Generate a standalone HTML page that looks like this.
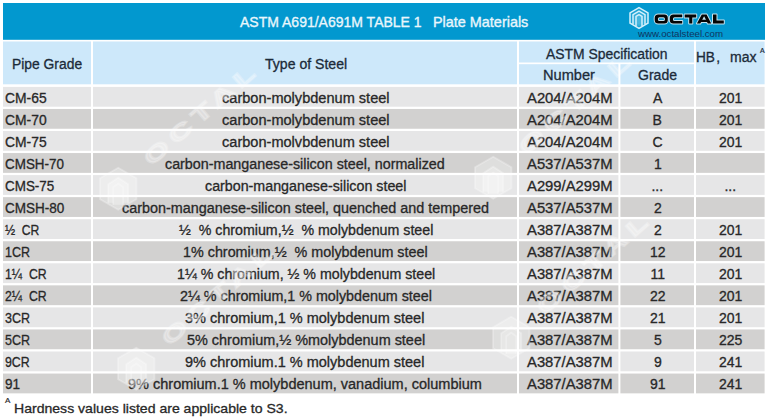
<!DOCTYPE html>
<html><head><meta charset="utf-8"><style>
html,body{margin:0;padding:0;width:768px;height:420px;overflow:hidden;background:#fff;position:relative}
.b{position:absolute}
.t,.ht,.tt{position:absolute;font-family:"Liberation Sans",sans-serif;font-size:14px;line-height:16px;white-space:nowrap;color:#282828;transform-origin:0 0}
.ht{color:#1c2b39}
.tt{color:#e9f6fc}
.sup{position:absolute;font-family:"Liberation Sans",sans-serif;font-size:7px;line-height:8px;color:#1b2a38;-webkit-text-stroke:0.2px currentColor}
.logo{position:absolute;left:0;top:0}
.octal{position:absolute;left:654px;top:13px;font-family:"Liberation Sans",sans-serif;font-weight:bold;font-size:13px;line-height:14px;color:#0a0a0a;transform-origin:0 0;transform:scaleX(1.52);letter-spacing:0.5px;
 text-shadow:0.8px 0 0 #d6eef8,-0.8px 0 0 #d6eef8,0 0.8px 0 #d6eef8,0 -0.8px 0 #d6eef8,0.6px 0.6px 0 #d6eef8,-0.6px -0.6px 0 #d6eef8,0.6px -0.6px 0 #d6eef8,-0.6px 0.6px 0 #d6eef8}
.www{position:absolute;left:638px;top:29px;font-family:"Liberation Sans",sans-serif;font-size:9.5px;line-height:10px;color:#0f3560;transform-origin:0 0;transform:scaleX(1.02)}
.wm{position:absolute;left:0;top:0;pointer-events:none}
.t,.ht{-webkit-text-stroke:0.3px currentColor}
.tt{-webkit-text-stroke:0.35px currentColor}

</style></head><body>
<svg class="b" style="left:0;top:0" width="768" height="420" viewBox="0 0 768 420" shape-rendering="geometricPrecision"><rect x="3" y="3.00" width="762.00" height="36.80" fill="#0298cf"/><rect x="3" y="41.50" width="88.00" height="42.80" fill="#cde8fa"/><rect x="93" y="41.50" width="424.00" height="42.80" fill="#cde8fa"/><rect x="519" y="41.50" width="175.00" height="21.00" fill="#cde8fa"/><rect x="519" y="64.20" width="99.40" height="20.10" fill="#cde8fa"/><rect x="620.4" y="64.20" width="73.60" height="20.10" fill="#cde8fa"/><rect x="696" y="41.50" width="68.60" height="42.80" fill="#cde8fa"/><rect x="3" y="86.90" width="88.00" height="19.80" fill="#e6e6e7"/><rect x="93" y="86.90" width="424.00" height="19.80" fill="#e6e6e7"/><rect x="519" y="86.90" width="99.40" height="19.80" fill="#e6e6e7"/><rect x="620.4" y="86.90" width="73.60" height="19.80" fill="#e6e6e7"/><rect x="696" y="86.90" width="68.60" height="19.80" fill="#e6e6e7"/><rect x="3" y="108.95" width="88.00" height="19.80" fill="#d2d1d0"/><rect x="93" y="108.95" width="424.00" height="19.80" fill="#d2d1d0"/><rect x="519" y="108.95" width="99.40" height="19.80" fill="#d2d1d0"/><rect x="620.4" y="108.95" width="73.60" height="19.80" fill="#d2d1d0"/><rect x="696" y="108.95" width="68.60" height="19.80" fill="#d2d1d0"/><rect x="3" y="131.00" width="88.00" height="19.80" fill="#e6e6e7"/><rect x="93" y="131.00" width="424.00" height="19.80" fill="#e6e6e7"/><rect x="519" y="131.00" width="99.40" height="19.80" fill="#e6e6e7"/><rect x="620.4" y="131.00" width="73.60" height="19.80" fill="#e6e6e7"/><rect x="696" y="131.00" width="68.60" height="19.80" fill="#e6e6e7"/><rect x="3" y="153.05" width="88.00" height="19.80" fill="#d2d1d0"/><rect x="93" y="153.05" width="424.00" height="19.80" fill="#d2d1d0"/><rect x="519" y="153.05" width="99.40" height="19.80" fill="#d2d1d0"/><rect x="620.4" y="153.05" width="73.60" height="19.80" fill="#d2d1d0"/><rect x="696" y="153.05" width="68.60" height="19.80" fill="#d2d1d0"/><rect x="3" y="175.10" width="88.00" height="19.80" fill="#e6e6e7"/><rect x="93" y="175.10" width="424.00" height="19.80" fill="#e6e6e7"/><rect x="519" y="175.10" width="99.40" height="19.80" fill="#e6e6e7"/><rect x="620.4" y="175.10" width="73.60" height="19.80" fill="#e6e6e7"/><rect x="696" y="175.10" width="68.60" height="19.80" fill="#e6e6e7"/><rect x="3" y="197.15" width="88.00" height="19.80" fill="#d2d1d0"/><rect x="93" y="197.15" width="424.00" height="19.80" fill="#d2d1d0"/><rect x="519" y="197.15" width="99.40" height="19.80" fill="#d2d1d0"/><rect x="620.4" y="197.15" width="73.60" height="19.80" fill="#d2d1d0"/><rect x="696" y="197.15" width="68.60" height="19.80" fill="#d2d1d0"/><rect x="3" y="219.20" width="88.00" height="19.80" fill="#e6e6e7"/><rect x="93" y="219.20" width="424.00" height="19.80" fill="#e6e6e7"/><rect x="519" y="219.20" width="99.40" height="19.80" fill="#e6e6e7"/><rect x="620.4" y="219.20" width="73.60" height="19.80" fill="#e6e6e7"/><rect x="696" y="219.20" width="68.60" height="19.80" fill="#e6e6e7"/><rect x="3" y="241.25" width="88.00" height="19.80" fill="#d2d1d0"/><rect x="93" y="241.25" width="424.00" height="19.80" fill="#d2d1d0"/><rect x="519" y="241.25" width="99.40" height="19.80" fill="#d2d1d0"/><rect x="620.4" y="241.25" width="73.60" height="19.80" fill="#d2d1d0"/><rect x="696" y="241.25" width="68.60" height="19.80" fill="#d2d1d0"/><rect x="3" y="263.30" width="88.00" height="19.80" fill="#e6e6e7"/><rect x="93" y="263.30" width="424.00" height="19.80" fill="#e6e6e7"/><rect x="519" y="263.30" width="99.40" height="19.80" fill="#e6e6e7"/><rect x="620.4" y="263.30" width="73.60" height="19.80" fill="#e6e6e7"/><rect x="696" y="263.30" width="68.60" height="19.80" fill="#e6e6e7"/><rect x="3" y="285.35" width="88.00" height="19.80" fill="#d2d1d0"/><rect x="93" y="285.35" width="424.00" height="19.80" fill="#d2d1d0"/><rect x="519" y="285.35" width="99.40" height="19.80" fill="#d2d1d0"/><rect x="620.4" y="285.35" width="73.60" height="19.80" fill="#d2d1d0"/><rect x="696" y="285.35" width="68.60" height="19.80" fill="#d2d1d0"/><rect x="3" y="307.40" width="88.00" height="19.80" fill="#e6e6e7"/><rect x="93" y="307.40" width="424.00" height="19.80" fill="#e6e6e7"/><rect x="519" y="307.40" width="99.40" height="19.80" fill="#e6e6e7"/><rect x="620.4" y="307.40" width="73.60" height="19.80" fill="#e6e6e7"/><rect x="696" y="307.40" width="68.60" height="19.80" fill="#e6e6e7"/><rect x="3" y="329.45" width="88.00" height="19.80" fill="#d2d1d0"/><rect x="93" y="329.45" width="424.00" height="19.80" fill="#d2d1d0"/><rect x="519" y="329.45" width="99.40" height="19.80" fill="#d2d1d0"/><rect x="620.4" y="329.45" width="73.60" height="19.80" fill="#d2d1d0"/><rect x="696" y="329.45" width="68.60" height="19.80" fill="#d2d1d0"/><rect x="3" y="351.50" width="88.00" height="19.80" fill="#e6e6e7"/><rect x="93" y="351.50" width="424.00" height="19.80" fill="#e6e6e7"/><rect x="519" y="351.50" width="99.40" height="19.80" fill="#e6e6e7"/><rect x="620.4" y="351.50" width="73.60" height="19.80" fill="#e6e6e7"/><rect x="696" y="351.50" width="68.60" height="19.80" fill="#e6e6e7"/><rect x="3" y="373.55" width="88.00" height="19.80" fill="#d2d1d0"/><rect x="93" y="373.55" width="424.00" height="19.80" fill="#d2d1d0"/><rect x="519" y="373.55" width="99.40" height="19.80" fill="#d2d1d0"/><rect x="620.4" y="373.55" width="73.60" height="19.80" fill="#d2d1d0"/><rect x="696" y="373.55" width="68.60" height="19.80" fill="#d2d1d0"/></svg>
<div id="t0" class="tt" style="left:240.21px;top:14px;font-size:14.5px;transform:scaleX(0.9658);">ASTM A691/A691M TABLE 1</div>
<div id="t1" class="tt" style="left:433.00px;top:14px;font-size:14.5px;transform:scaleX(0.9937);">Plate Materials</div>
<div id="t2" class="ht" style="left:12.01px;top:56px;font-size:14px;transform:scaleX(0.9900);">Pipe Grade</div>
<div id="t3" class="ht" style="left:265.00px;top:56px;font-size:14px;transform:scaleX(1.0049);">Type of Steel</div>
<div id="t4" class="ht" style="left:546.40px;top:46px;font-size:14px;transform:scaleX(0.9943);">ASTM Specification</div>
<div id="t5" class="ht" style="left:542.77px;top:67px;font-size:14px;transform:scaleX(1.0429);">Number</div>
<div id="t6" class="ht" style="left:637.60px;top:67px;font-size:14px;transform:scaleX(1.0026);">Grade</div>
<div id="t7" class="ht" style="left:696.22px;top:49px;font-size:14px;transform:scaleX(0.9765);">HB</div>
<div id="t8" class="ht" style="left:716.20px;top:49px;font-size:14px;transform:scaleX(1.0000);">,</div>
<div id="t9" class="ht" style="left:730.20px;top:49px;font-size:14px;transform:scaleX(1.0038);">max</div>
<div id="t10" class="t" style="left:4.60px;top:90px;font-size:14px;transform:scaleX(0.9905);">CM-65</div>
<div id="t11" class="t" style="left:222.00px;top:90px;font-size:14px;transform:scaleX(1.0404);">carbon-molybdenum steel</div>
<div id="t12" class="t" style="left:527.03px;top:90px;font-size:14px;transform:scaleX(1.0580);">A204/A204M</div>
<div id="t13" class="t" style="left:652.90px;top:90px;font-size:14px;transform:scaleX(1.0000);">A</div>
<div id="t14" class="t" style="left:718.90px;top:90px;font-size:14px;transform:scaleX(1.0000);">201</div>
<div id="t15" class="t" style="left:4.60px;top:112px;font-size:14px;transform:scaleX(0.9905);">CM-70</div>
<div id="t16" class="t" style="left:222.00px;top:112px;font-size:14px;transform:scaleX(1.0404);">carbon-molybdenum steel</div>
<div id="t17" class="t" style="left:527.03px;top:112px;font-size:14px;transform:scaleX(1.0580);">A204/A204M</div>
<div id="t18" class="t" style="left:652.40px;top:112px;font-size:14px;transform:scaleX(1.0000);">B</div>
<div id="t19" class="t" style="left:718.90px;top:112px;font-size:14px;transform:scaleX(1.0000);">201</div>
<div id="t20" class="t" style="left:4.60px;top:134px;font-size:14px;transform:scaleX(0.9905);">CM-75</div>
<div id="t21" class="t" style="left:222.00px;top:134px;font-size:14px;transform:scaleX(1.0404);">carbon-molvbdenum steel</div>
<div id="t22" class="t" style="left:527.03px;top:134px;font-size:14px;transform:scaleX(1.0580);">A204/A204M</div>
<div id="t23" class="t" style="left:652.40px;top:134px;font-size:14px;transform:scaleX(1.0000);">C</div>
<div id="t24" class="t" style="left:718.90px;top:134px;font-size:14px;transform:scaleX(1.0000);">201</div>
<div id="t25" class="t" style="left:4.61px;top:156px;font-size:14px;transform:scaleX(0.9590);">CMSH-70</div>
<div id="t26" class="t" style="left:165.48px;top:156px;font-size:14px;transform:scaleX(1.0211);">carbon-manganese-silicon steel, normalized</div>
<div id="t27" class="t" style="left:527.03px;top:156px;font-size:14px;transform:scaleX(1.0580);">A537/A537M</div>
<div id="t28" class="t" style="left:653.90px;top:156px;font-size:14px;transform:scaleX(1.0000);">1</div>
<div id="t29" class="t" style="left:4.61px;top:178px;font-size:14px;transform:scaleX(0.9588);">CMS-75</div>
<div id="t30" class="t" style="left:204.99px;top:178px;font-size:14px;transform:scaleX(1.0190);">carbon-manganese-silicon steel</div>
<div id="t31" class="t" style="left:527.03px;top:178px;font-size:14px;transform:scaleX(1.0580);">A299/A299M</div>
<div id="t32" class="t" style="left:651.40px;top:178px;font-size:14px;transform:scaleX(1.0000);">...</div>
<div id="t33" class="t" style="left:724.40px;top:178px;font-size:14px;transform:scaleX(1.0000);">...</div>
<div id="t34" class="t" style="left:4.61px;top:200px;font-size:14px;transform:scaleX(0.9656);">CMSH-80</div>
<div id="t35" class="t" style="left:121.99px;top:200px;font-size:14px;transform:scaleX(1.0274);">carbon-manganese-silicon steel, quenched and tempered</div>
<div id="t36" class="t" style="left:527.03px;top:200px;font-size:14px;transform:scaleX(1.0580);">A537/A537M</div>
<div id="t37" class="t" style="left:653.90px;top:200px;font-size:14px;transform:scaleX(1.0000);">2</div>
<div id="t38" class="t" style="left:4.63px;top:222px;font-size:14px;transform:scaleX(0.8667);">½&nbsp; CR</div>
<div id="t39" class="t" style="left:178.50px;top:222px;font-size:14px;transform:scaleX(1.0150);">½&nbsp; % chromium,½&nbsp; % molybdenum steel</div>
<div id="t40" class="t" style="left:527.03px;top:222px;font-size:14px;transform:scaleX(1.0580);">A387/A387M</div>
<div id="t41" class="t" style="left:653.90px;top:222px;font-size:14px;transform:scaleX(1.0000);">2</div>
<div id="t42" class="t" style="left:718.90px;top:222px;font-size:14px;transform:scaleX(1.0000);">201</div>
<div id="t43" class="t" style="left:4.62px;top:244px;font-size:14px;transform:scaleX(0.8926);">1CR</div>
<div id="t44" class="t" style="left:183.49px;top:244px;font-size:14px;transform:scaleX(1.0242);">1% chromium,½&nbsp; % molybdenum steel</div>
<div id="t45" class="t" style="left:527.03px;top:244px;font-size:14px;transform:scaleX(1.0580);">A387/A387M</div>
<div id="t46" class="t" style="left:649.90px;top:244px;font-size:14px;transform:scaleX(1.0000);">12</div>
<div id="t47" class="t" style="left:718.90px;top:244px;font-size:14px;transform:scaleX(1.0000);">201</div>
<div id="t48" class="t" style="left:4.62px;top:266px;font-size:14px;transform:scaleX(0.8766);">1¼&nbsp; CR</div>
<div id="t49" class="t" style="left:176.99px;top:266px;font-size:14px;transform:scaleX(1.0148);">1¼ % chromium, ½ % molybdenum steel</div>
<div id="t50" class="t" style="left:527.03px;top:266px;font-size:14px;transform:scaleX(1.0580);">A387/A387M</div>
<div id="t51" class="t" style="left:650.40px;top:266px;font-size:14px;transform:scaleX(1.0000);">11</div>
<div id="t52" class="t" style="left:718.90px;top:266px;font-size:14px;transform:scaleX(1.0000);">201</div>
<div id="t53" class="t" style="left:4.62px;top:288px;font-size:14px;transform:scaleX(0.8766);">2¼&nbsp; CR</div>
<div id="t54" class="t" style="left:180.00px;top:288px;font-size:14px;transform:scaleX(1.0213);">2¼ % chromium,1 % molybdenum steel</div>
<div id="t55" class="t" style="left:527.03px;top:288px;font-size:14px;transform:scaleX(1.0580);">A387/A387M</div>
<div id="t56" class="t" style="left:649.90px;top:288px;font-size:14px;transform:scaleX(1.0000);">22</div>
<div id="t57" class="t" style="left:718.90px;top:288px;font-size:14px;transform:scaleX(1.0000);">201</div>
<div id="t58" class="t" style="left:4.62px;top:310px;font-size:14px;transform:scaleX(0.8926);">3CR</div>
<div id="t59" class="t" style="left:185.47px;top:310px;font-size:14px;transform:scaleX(1.0359);">3% chromium,1 % molybdenum steel</div>
<div id="t60" class="t" style="left:527.03px;top:310px;font-size:14px;transform:scaleX(1.0580);">A387/A387M</div>
<div id="t61" class="t" style="left:649.90px;top:310px;font-size:14px;transform:scaleX(1.0000);">21</div>
<div id="t62" class="t" style="left:718.90px;top:310px;font-size:14px;transform:scaleX(1.0000);">201</div>
<div id="t63" class="t" style="left:4.62px;top:332px;font-size:14px;transform:scaleX(0.8926);">5CR</div>
<div id="t64" class="t" style="left:186.98px;top:332px;font-size:14px;transform:scaleX(1.0304);">5% chromium,½ %molybdenum steel</div>
<div id="t65" class="t" style="left:527.03px;top:332px;font-size:14px;transform:scaleX(1.0580);">A387/A387M</div>
<div id="t66" class="t" style="left:653.90px;top:332px;font-size:14px;transform:scaleX(1.0000);">5</div>
<div id="t67" class="t" style="left:718.90px;top:332px;font-size:14px;transform:scaleX(1.0000);">225</div>
<div id="t68" class="t" style="left:4.62px;top:354px;font-size:14px;transform:scaleX(0.8815);">9CR</div>
<div id="t69" class="t" style="left:185.47px;top:354px;font-size:14px;transform:scaleX(1.0359);">9% chromium.1 % molybdenum steel</div>
<div id="t70" class="t" style="left:527.03px;top:354px;font-size:14px;transform:scaleX(1.0580);">A387/A387M</div>
<div id="t71" class="t" style="left:653.90px;top:354px;font-size:14px;transform:scaleX(1.0000);">9</div>
<div id="t72" class="t" style="left:718.90px;top:354px;font-size:14px;transform:scaleX(1.0000);">241</div>
<div id="t73" class="t" style="left:4.61px;top:376px;font-size:14px;transform:scaleX(0.9667);">91</div>
<div id="t74" class="t" style="left:128.49px;top:376px;font-size:14px;transform:scaleX(1.0359);">9% chromium.1 % molybdenum, vanadium, columbium</div>
<div id="t75" class="t" style="left:527.03px;top:376px;font-size:14px;transform:scaleX(1.0580);">A387/A387M</div>
<div id="t76" class="t" style="left:649.90px;top:376px;font-size:14px;transform:scaleX(1.0000);">91</div>
<div id="t77" class="t" style="left:718.90px;top:376px;font-size:14px;transform:scaleX(1.0000);">241</div>
<div id="t78" class="t" style="left:13.92px;top:401px;font-size:13px;transform:scaleX(1.0817);">Hardness values listed are applicable to S3.</div>
<svg class="wm" width="768" height="420" viewBox="0 0 768 420"><g fill="rgba(255,255,255,0.28)" stroke="rgba(255,255,255,0.28)" stroke-width="1.8"><g transform="translate(157,151) rotate(-41)">
 <g transform="translate(-54,3) rotate(41)"><polygon points="0,-21 18.2,-10.5 18.2,10.5 0,21 -18.2,10.5 -18.2,-10.5"/>
 <path d="M-10,14 V-4.5 L0,-11 L10,-4.5 V14 M-5,16 V-1.5 L0,-5 L5,-1.5 V16"/></g>
 <text x="-9" y="8" font-family="Liberation Sans" font-weight="bold" font-size="21" letter-spacing="4" transform="scale(1.6,1)">OCTAL</text>
</g><g transform="translate(532,140) rotate(-41)">
 <g transform="translate(-54,3) rotate(41)"><polygon points="0,-21 18.2,-10.5 18.2,10.5 0,21 -18.2,10.5 -18.2,-10.5"/>
 <path d="M-10,14 V-4.5 L0,-11 L10,-4.5 V14 M-5,16 V-1.5 L0,-5 L5,-1.5 V16"/></g>
 <text x="-9" y="8" font-family="Liberation Sans" font-weight="bold" font-size="21" letter-spacing="4" transform="scale(1.6,1)">OCTAL</text>
</g><g transform="translate(175,331) rotate(-41)">
 <g transform="translate(-54,3) rotate(41)"><polygon points="0,-21 18.2,-10.5 18.2,10.5 0,21 -18.2,10.5 -18.2,-10.5"/>
 <path d="M-10,14 V-4.5 L0,-11 L10,-4.5 V14 M-5,16 V-1.5 L0,-5 L5,-1.5 V16"/></g>
 <text x="-9" y="8" font-family="Liberation Sans" font-weight="bold" font-size="21" letter-spacing="4" transform="scale(1.6,1)">OCTAL</text>
</g><g transform="translate(550,300) rotate(-41)">
 <g transform="translate(-54,3) rotate(41)"><polygon points="0,-21 18.2,-10.5 18.2,10.5 0,21 -18.2,10.5 -18.2,-10.5"/>
 <path d="M-10,14 V-4.5 L0,-11 L10,-4.5 V14 M-5,16 V-1.5 L0,-5 L5,-1.5 V16"/></g>
 <text x="-9" y="8" font-family="Liberation Sans" font-weight="bold" font-size="21" letter-spacing="4" transform="scale(1.6,1)">OCTAL</text>
</g></g></svg>
<div class="sup" style="left:760px;top:47px">A</div>
<div class="sup" style="left:5px;top:397px;font-size:8px;-webkit-text-stroke:0.2px currentColor;color:#282828">A</div>
<svg class="logo" width="768" height="42" viewBox="0 0 768 42">
 <g fill="rgba(220,245,255,0.12)" stroke="#d6f1fc" stroke-width="1.5" stroke-linejoin="round">
  <polygon points="639,7.6 648,12.8 648,23.2 639,28.4 630,23.2 630,12.8"/>
  <path d="M633,24.5 V14.6 L639,11.2 L645,14.6 V24.5"/>
  <path d="M636,26 V16.4 L639,14.7 L642,16.4 V26"/>
 </g>
</svg>
<svg class="logo" width="768" height="42" viewBox="0 0 768 42"><g fill="#050505" stroke="#c4e2ee" stroke-width="2" stroke-linejoin="round" paint-order="stroke fill" fill-rule="evenodd">
<path d="M658.2,14.5 H664.3 A3.5,3.5 0 0 1 667.8,18 V20.1 A3.5,3.5 0 0 1 664.3,23.6 H658.2 A3.5,3.5 0 0 1 654.7,20.1 V18 A3.5,3.5 0 0 1 658.2,14.5 Z M659.4,17.2 H663.4 A1.5,1.5 0 0 1 664.9,18.7 V19.6 A1.5,1.5 0 0 1 663.4,21.1 H659.4 A1.5,1.5 0 0 1 657.9,19.6 V18.7 A1.5,1.5 0 0 1 659.4,17.2 Z"/>
<path d="M682.2,14.5 H673.3 A3.5,3.5 0 0 0 669.8,18 V20.1 A3.5,3.5 0 0 0 673.3,23.6 H682.2 V21.1 H674.5 A1.5,1.5 0 0 1 673,19.6 V18.7 A1.5,1.5 0 0 1 674.5,17.2 H682.2 Z"/>
<path d="M684.7,14.4 H696.2 V17.4 H692.3 V23.6 H689.2 V17.4 H684.7 Z"/>
<path d="M696.9,23.6 L701.8,14.4 H706.6 L711.2,23.6 H707.8 L707,22 H701.1 L700.3,23.6 Z M702.2,19.7 H706 L704.1,16.2 Z"/>
<path d="M713,14.4 H716.5 V20.5 H723.8 V23.6 H713 Z"/>
</g></svg>
<div class="www">www.octalsteel.com</div>

</body></html>
